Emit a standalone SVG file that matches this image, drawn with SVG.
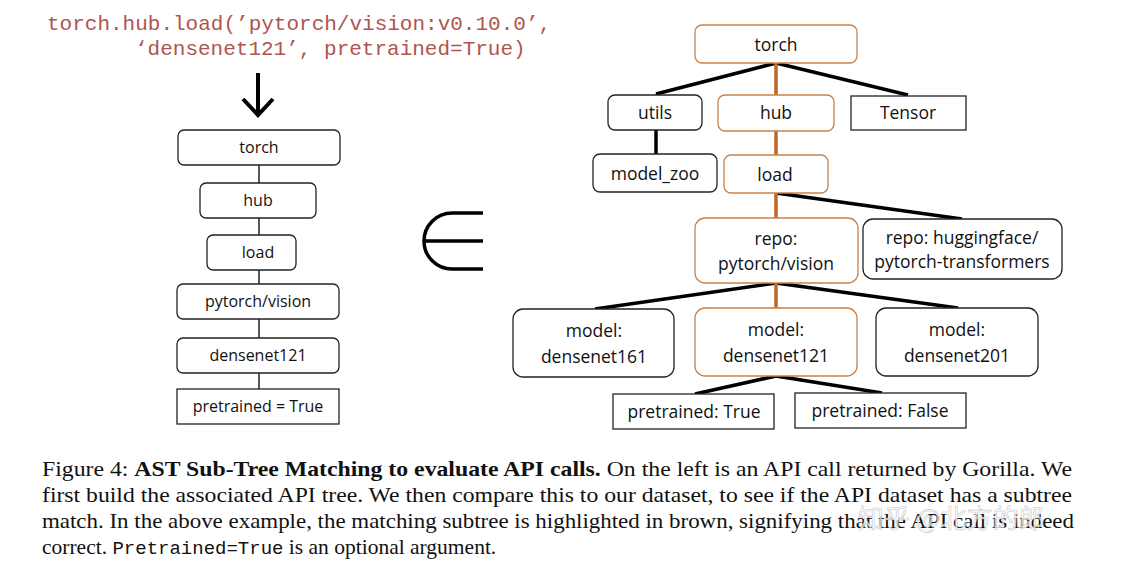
<svg xmlns="http://www.w3.org/2000/svg" width="1123" height="566" viewBox="0 0 1123 566">
<style>
.n{fill:#fff;stroke:#222;stroke-width:1.3}
.b{fill:#fff;stroke:#c8824a;stroke-width:1.3}
.t{font-family:"Open Sans","Liberation Sans",sans-serif;font-size:16px;fill:#111;text-anchor:middle}
.r{font-family:"Open Sans","Liberation Sans",sans-serif;font-size:17.5px;fill:#111;text-anchor:middle}
.k{stroke:#000;stroke-width:3.5;fill:none}
.o{stroke:#c0682a;stroke-width:3.5;fill:none}
.c{font-family:"Liberation Mono",monospace;font-size:21px;fill:#b05450}
.cap{font-family:"Liberation Serif",serif;font-size:21.5px;fill:#111}
</style>
<rect width="1123" height="566" fill="#fff"/>
<text class="c" x="47" y="30">torch.hub.load(’pytorch/vision:v0.10.0’,</text>
<text class="c" x="135" y="55">‘densenet121’, pretrained=True)</text>
<g id="connectors">
<path d="M258 73V114M243 99L258 115L273 99" stroke="#000" stroke-width="4" fill="none"/>
<path d="M259 165V183M259 218V235M259 270V284M259 319V338M259 373V389" stroke="#222" stroke-width="1.5"/>
<path class="k" d="M483 213H452A28 28 0 0 0 452 269H483M424 241H483"/>
<path class="k" d="M776 63L656 94M776 63L908 95M656 130V154M776 193L962 219M776 283L595 309M776 283L958 308M776 376L695 394M776 376L882 393"/>
<path class="o" d="M776 63V95M776 131V155M776 193V218M776 283V308"/>
</g>
<g id="l-torch"><rect class="n" x="178" y="130" width="162" height="35" rx="6"/><text class="t" x="259" y="153">torch</text></g>
<g id="l-hub"><rect class="n" x="200" y="183" width="116" height="35" rx="6"/><text class="t" x="258" y="206">hub</text></g>
<g id="l-load"><rect class="n" x="207" y="235" width="89" height="35" rx="6"/><text class="t" x="258" y="258">load</text></g>
<g id="l-repo"><rect class="n" x="177" y="284" width="162" height="35" rx="6"/><text class="t" x="258" y="307">pytorch/vision</text></g>
<g id="l-model"><rect class="n" x="177" y="338" width="162" height="35" rx="6"/><text class="t" x="258" y="361">densenet121</text></g>
<g id="l-pre"><rect class="n" x="177" y="389" width="162" height="35"/><text class="t" x="258" y="412">pretrained = True</text></g>
<g id="r-torch"><rect class="b" x="695" y="25" width="162" height="38" rx="7"/><text class="r" x="776" y="51">torch</text></g>
<g id="r-utils"><rect class="n" x="608" y="95" width="94" height="35" rx="7"/><text class="r" x="655" y="119">utils</text></g>
<g id="r-hub"><rect class="b" x="718" y="95" width="116" height="36" rx="7"/><text class="r" x="776" y="119">hub</text></g>
<g id="r-tensor"><rect class="n" x="851" y="96" width="115" height="34"/><text class="r" x="908" y="119">Tensor</text></g>
<g id="r-zoo"><rect class="n" x="593" y="154" width="124" height="38" rx="7"/><text class="r" x="655" y="180">model_zoo</text></g>
<g id="r-load"><rect class="b" x="724" y="155" width="104" height="38" rx="7"/><text class="r" x="775" y="181">load</text></g>
<g id="r-repo"><rect class="b" x="695" y="218" width="163" height="65" rx="10"/><text class="r" x="776" y="245">repo:</text><text class="r" x="776" y="270">pytorch/vision</text></g>
<g id="r-hf"><rect class="n" x="863" y="219" width="199" height="60" rx="10"/><text class="r" x="962" y="244">repo: huggingface/</text><text class="r" x="962" y="268">pytorch-transformers</text></g>
<g id="r-161"><rect class="n" x="513" y="309" width="161" height="68" rx="10"/><text class="r" x="594" y="337">model:</text><text class="r" x="594" y="363">densenet161</text></g>
<g id="r-121"><rect class="b" x="695" y="308" width="162" height="68" rx="10"/><text class="r" x="776" y="336">model:</text><text class="r" x="776" y="362">densenet121</text></g>
<g id="r-201"><rect class="n" x="876" y="308" width="162" height="68" rx="10"/><text class="r" x="957" y="336">model:</text><text class="r" x="957" y="362">densenet201</text></g>
<g id="r-true"><rect class="n" x="613" y="394" width="161" height="35"/><text class="r" x="694" y="418">pretrained: True</text></g>
<g id="r-false"><rect class="n" x="795" y="393" width="171" height="35"/><text class="r" x="880" y="417">pretrained: False</text></g>
<text class="cap" x="42" y="476" textLength="1030" lengthAdjust="spacingAndGlyphs">Figure 4: <tspan font-weight="bold">AST Sub-Tree Matching to evaluate API calls.</tspan> On the left is an API call returned by Gorilla. We</text>
<text class="cap" x="42" y="502" textLength="1030" lengthAdjust="spacingAndGlyphs">first build the associated API tree. We then compare this to our dataset, to see if the API dataset has a subtree</text>
<text class="cap" x="42" y="528" textLength="1032" lengthAdjust="spacingAndGlyphs">match. In the above example, the matching subtree is highlighted in brown, signifying that the API call is indeed</text>
<text class="cap" x="42" y="554">correct. <tspan font-family="Liberation Mono,monospace" font-size="19">Pretrained=True</tspan> is an optional argument.</text>
<text x="858" y="528" font-family="Noto Sans CJK SC,sans-serif" font-size="26" fill="#fff" fill-opacity="0.75" stroke="#999" stroke-width="0.6" stroke-opacity="0.6">知乎 @北方的郎</text>
</svg>
